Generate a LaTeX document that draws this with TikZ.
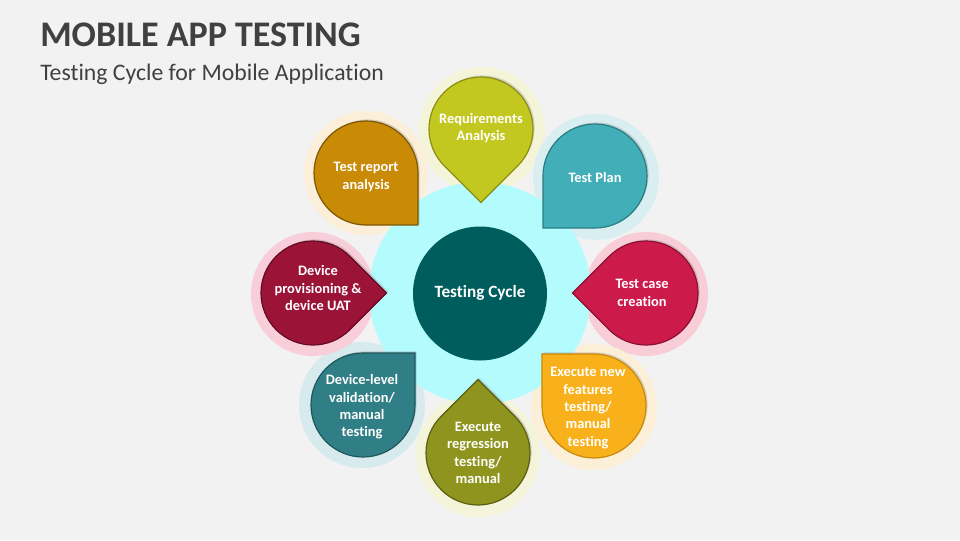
\documentclass[tikz,border=0pt]{standalone}
\usepackage{fontspec}
\setmainfont{Carlito}[Ligatures={TeX,NoCommon}]
\usepackage{tikz}
\usetikzlibrary{shadows}

\definecolor{bggray}{HTML}{F2F2F2}
\definecolor{titlegray}{HTML}{404040}
\definecolor{hubcyan}{HTML}{B3FBFC}
\definecolor{hubteal}{HTML}{005D5D}
\definecolor{reqfill}{HTML}{C3C821}
\definecolor{reqline}{HTML}{8C8F12}
\definecolor{reqhalo}{HTML}{F4F4D8}
\definecolor{planfill}{HTML}{41AEB8}
\definecolor{planline}{HTML}{2A7C84}
\definecolor{planhalo}{HTML}{D8EEF1}
\definecolor{casefill}{HTML}{CC1A4B}
\definecolor{caseline}{HTML}{8C0F31}
\definecolor{casehalo}{HTML}{F8CDD8}
\definecolor{newfill}{HTML}{F8B11B}
\definecolor{newline}{HTML}{C88A0A}
\definecolor{newhalo}{HTML}{FCEFD7}
\definecolor{regrfill}{HTML}{8E941D}
\definecolor{regrline}{HTML}{5B5F10}
\definecolor{regrhalo}{HTML}{F3F4D9}
\definecolor{devlvfill}{HTML}{317F86}
\definecolor{devlvline}{HTML}{1E565B}
\definecolor{devlvhalo}{HTML}{D7EBEE}
\definecolor{provfill}{HTML}{9B1438}
\definecolor{provline}{HTML}{640A22}
\definecolor{provhalo}{HTML}{F7CEDA}
\definecolor{reportfill}{HTML}{C98A06}
\definecolor{reportline}{HTML}{7E5604}
\definecolor{reporthalo}{HTML}{FCEFD9}

\tikzset{
  petal/.style={line width=0.9, drop shadow={opacity=0.3, shadow xshift=1.2pt, shadow yshift=1.2pt}},
  petaltext/.style={text=white, align=center, inner sep=0.75pt, font=\bfseries\fontsize{10.8}{13}\selectfont},
}

\begin{document}
\begin{tikzpicture}[x=0.75pt,y=0.75pt,yscale=-1,xscale=1]
%set diagram to 960 x 540
\path[use as bounding box, fill=bggray] (0,0) rectangle (960,540);

% Text Node
\node[anchor=base west, inner sep=0pt, text=titlegray, font=\bfseries\fontsize{27}{32}\selectfont] (title) at (40,46) {MOBILE APP TESTING};
% Text Node
\node[anchor=base west, inner sep=0pt, text=titlegray, font=\fontsize{17.8}{21}\selectfont] (subtitle) at (40,80) {Testing Cycle for Mobile Application};

%Shape: Circle halos
\fill[reqhalo] (482,130) circle (63);
\fill[planhalo] (596,177) circle (63);
\fill[casehalo] (646,294) circle (62);
\fill[newhalo] (594,407) circle (63);
\fill[regrhalo] (478,455) circle (62);
\fill[devlvhalo] (362,405) circle (63);
\fill[provhalo] (313,294) circle (62);
\fill[reporthalo] (366,173) circle (62);

%Shape: Circle [hub]
\fill[hubcyan] (480,293) circle (111);
\fill[hubteal] (480,293.5) circle (67);

%Shape: Teardrop [Requirements Analysis]
\draw[petal, fill=reqfill, draw=reqline, shift={(481,129)}] (90:73.5) -- (135:52) arc[start angle=135, end angle=405, radius=52] -- cycle;
%Shape: Teardrop [Test Plan]
\draw[petal, fill=planfill, draw=planline, shift={(595,176)}] (135:73.5) -- (180:52) arc[start angle=180, end angle=450, radius=52] -- cycle;
%Shape: Teardrop [Test case creation]
\draw[petal, fill=casefill, draw=caseline, shift={(646,293)}] (180:73.5) -- (225:52) arc[start angle=225, end angle=495, radius=52] -- cycle;
%Shape: Teardrop [Execute new features]
\draw[petal, fill=newfill, draw=newline, shift={(594,406)}] (225:73.5) -- (270:52) arc[start angle=270, end angle=540, radius=52] -- cycle;
%Shape: Teardrop [Execute regression]
\draw[petal, fill=regrfill, draw=regrline, shift={(478,453)}] (270:73.5) -- (315:52) arc[start angle=315, end angle=585, radius=52] -- cycle;
%Shape: Teardrop [Device-level validation]
\draw[petal, fill=devlvfill, draw=devlvline, shift={(363,405)}] (315:73.5) -- (360:52) arc[start angle=360, end angle=630, radius=52] -- cycle;
%Shape: Teardrop [Device provisioning]
\draw[petal, fill=provfill, draw=provline, shift={(313,293)}] (0:73.5) -- (45:52) arc[start angle=45, end angle=315, radius=52] -- cycle;
%Shape: Teardrop [Test report analysis]
\draw[petal, fill=reportfill, draw=reportline, shift={(366,173)}] (45:73.5) -- (90:52) arc[start angle=90, end angle=360, radius=52] -- cycle;

% Text Node
\node[text=white, inner sep=0.75pt, font=\bfseries\fontsize{12.9}{15}\selectfont] (hub) at (480,293) {Testing Cycle};
% Text Node
\node[petaltext] (req) at (481,128) {Requirements\\Analysis};
% Text Node
\node[petaltext] (plan) at (595,177) {Test Plan};
% Text Node
\node[petaltext] (case) at (642,293) {Test case\\creation};
% Text Node
\node[petaltext] (newfeat) at (588,408) {Execute new\\features\\testing/\\manual\\testing};
% Text Node
\node[petaltext] (regress) at (478,453) {Execute\\regression\\testing/\\manual};
% Text Node
\node[petaltext] (devlevel) at (362,407) {Device-level\\validation/\\manual\\testing};
% Text Node
\node[petaltext] (devprov) at (318,288) {Device\\provisioning \&\\device UAT};
% Text Node
\node[petaltext] (report) at (366,177) {Test report\\analysis};
\end{tikzpicture}
\end{document}
